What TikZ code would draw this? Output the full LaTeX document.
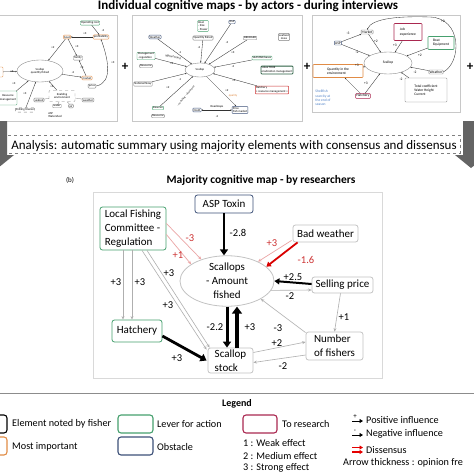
\documentclass[tikz,border=0pt]{standalone}
\usepackage{fontspec}
\setmainfont{Carlito}
\usetikzlibrary{arrows.meta,shapes.geometric,calc}
\definecolor{lgreen}{RGB}{70,160,110}
\definecolor{lblue}{RGB}{60,80,120}
\definecolor{lred}{RGB}{170,40,80}
\definecolor{lorange}{RGB}{225,140,70}
\definecolor{lgray}{RGB}{195,195,195}
\definecolor{agray}{RGB}{175,175,175}
\definecolor{pinkl}{RGB}{235,165,165}
\definecolor{redt}{RGB}{205,50,50}
\definecolor{bgray}{RGB}{100,100,100}
\definecolor{pgray}{RGB}{200,200,200}
\definecolor{sblue}{RGB}{80,130,200}
\begin{document}
\begin{tikzpicture}[x=1pt,y=-1pt,
  mn/.style={draw=lgray, rounded corners=2.5pt, fill=white, line width=0.8pt, font=\fontsize{11}{14}\selectfont, inner sep=0pt},
  lbl/.style={font=\fontsize{10.5}{12}\selectfont, inner sep=0pt},
  rlbl/.style={lbl, text=redt},
  thinarr/.style={draw=agray, line width=0.6pt, -{Stealth[length=3.5pt,width=3pt]}},
  pinkarr/.style={draw=pinkl, line width=0.7pt, -{Stealth[length=3.5pt,width=3pt]}},
  bigarr/.style={draw=black, line width=2.6pt, -{Triangle[length=6pt,width=8pt]}},
  panel/.style={draw=pgray, line width=0.7pt},
  tn/.style={draw=gray, rounded corners=0.8pt, line width=0.35pt, fill=white, font=\fontsize{3}{3.6}\selectfont, inner sep=0.8pt, align=center},
  tl/.style={font=\fontsize{3}{3.6}\selectfont, inner sep=0pt, align=center},
  ta/.style={-{Stealth[length=1.6pt,width=1.3pt]}, line width=0.35pt, draw=black!80},
  plus/.style={font=\bfseries\fontsize{13}{13}\selectfont, inner sep=0pt},
  legtext/.style={font=\fontsize{10.2}{12}\selectfont, inner sep=0pt, anchor=west},
  legbox/.style={rounded corners=3pt, line width=1.1pt, fill=white}
]
\useasboundingbox (0,0) rectangle (474,474);
\clip (0,0) rectangle (474,474);
\fill[white] (0,0) rectangle (474,474);

% ---------- top title ----------
\node[font=\bfseries\fontsize{13}{15}\selectfont, inner sep=0pt] (t1) at (248,6) {Individual cognitive maps - by actors - during interviews};

% ---------- panel 1 ----------
\draw[panel] (-5,15) rectangle (117,121);
\node[tn, draw=lgreen] (p1oc) at (90,23) {Operating cost};
\node[tn, draw=lorange] (p1boat) at (67,37) {boat};
\node[tn, draw=lorange] (p1prof) at (101,37) {profitability};
\node[tn] (p1fam) at (78,58) {family};
\node[tn, ellipse, minimum width=46pt, minimum height=22pt] (p1sq) at (40,71) {Scallop\\quantity fished};
\node[tn, draw=lorange] (p1mkt) at (87,78) {market};
\node[tn] (p1price) at (92,86) {price};
\node[tn, draw=lorange, minimum width=14pt, minimum height=10pt] (p1l) at (-4,72) {};
\node[tn, draw=lgreen, minimum width=18pt, minimum height=14pt] (p1res) at (8,98) {Resource\\management};
\node[tn, dashed] (p1fl) at (25,110) {Fishing license};
\node[tn, dashed, minimum width=26pt, minimum height=11pt] (p1ee) at (62,96) {Enabling\\environment};
\node[tn] (p1sb) at (39,100) {seabed};
\node[tn] (p1we) at (88,100) {weather};
\node[tn] (p1wa) at (57,106) {water};
\node[tn] (p1air) at (71,106) {air};
\node[tl, align=left] (p1asp) at (55,115) {ASP\\Watershed};
\draw[ta] (p1oc) -- (p1prof);
\draw[ta] (p1prof) -- (p1boat);
\draw[ta] (p1boat) -- (p1sq);
\draw[ta] (p1boat) -- (p1fam);
\draw[ta] (p1mkt) -- (p1fam);
\draw[ta] (p1sq) -- (p1mkt);
\draw[ta] (p1price.east) to[out=10,in=-70] (p1prof.south);
\draw[ta] (p1l) -- (p1sq);
\draw[ta] (p1res) -- (p1sq);
\draw[ta] (p1fl) -- (p1sq);
\draw[ta] (p1ee) -- (p1sq);
\draw[line width=0.3pt, gray] (p1ee) -- (p1sb) (p1ee) -- (p1we) (p1ee) -- (p1wa) (p1ee) -- (p1air);
\node[tl] at (103,31) {-3};
\node[tl] at (85,34) {+3};
\node[tl] at (53,48) {+2};
\node[tl] at (77,47) {+3};
\node[tl] at (82,68) {+3};
\node[tl] at (73,73) {-2};
\node[tl] at (113,63) {+3};
\node[tl] at (12,72) {+3};
\node[tl] at (14,84) {+3};
\node[tl] at (25,94) {+3};
\node[tl] at (52,87) {+3};

\node[plus] at (125,67) {+};

% ---------- panel 2 ----------
\draw[panel] (132,15) rectangle (302,121);
\node[tn, ellipse, minimum width=30pt, minimum height=14pt] (p2sc) at (200,70) {Scallop};
\node[tn, draw=lgreen, align=left] (p2boat) at (203,26) {Boat\\- Size\\- Power};
\node[tn] (p2qf) at (203,38) {Quantity fished};
\node[tn, draw=lblue] (p2asp) at (232,22) {ASP};
\node[tn, draw=lblue] (p2we) at (155,37) {Weather};
\node[tn] (p2dr) at (250,38) {DREDGER};
\node[tn] (p2sm) at (284,37) {seafood\\mass};
\node[tn, draw=lgreen, align=left] (p2mg) at (146,56) {Management\\- regulation};
\node[tn] (p2r1) at (146,66) {Resource};
\node[tn, draw=lgreen] (p2ss) at (262,58) {SEASTAR/bases};
\node[tn, draw=lgreen!60!black, line width=0.8pt, align=left] (p2vt) at (277,70) {value TRUE\\eradication management};
\node[tn] (p2nn) at (143,84) {National Navy};
\node[tn, draw=redt, line width=0.6pt, align=left] (p2ha) at (272,90) {Hatchery\\+ resource management +};
\node[tn, draw=lgreen] (p2re) at (158,108) {Reserve};
\node[tn] (p2r2) at (158,116) {Resource};
\node[tn, draw=lblue] (p2dt) at (197,110) {Dredt};
\node[tn, draw=lblue, align=left] (p2pr) at (240,110) {Price\\Fish market};
\draw[ta] (p2we) -- (p2sc);
\draw[ta] (p2qf) -- (p2sc);
\draw[ta] (p2asp) -- (p2sc);
\draw[ta] (p2dr) -- (p2sc);
\draw[ta] (p2ss) -- (p2sc);
\draw[ta] (p2mg) -- (p2sc);
\draw[ta] (p2nn) -- (p2sc);
\draw[ta] (p2ha) -- (p2sc);
\draw[ta] (p2re) -- (p2sc);
\draw[ta] (p2sc) -- (p2pr);
\draw[ta, {Stealth[length=1.6pt,width=1.3pt]}-{Stealth[length=1.6pt,width=1.3pt]}] (p2dt) -- (p2pr);
\node[tl] at (180,53) {-1};
\node[tl] at (199,48) {-2};
\node[tl] at (227,43) {-3};
\node[tl] at (233,53) {+3};
\node[tl] at (233,67) {-3};
\node[tl, rotate=-12] at (173,57) {against fraud};
\node[tl] at (172,64) {+2};
\node[tl] at (180,80) {-1};
\node[tl] at (234,81) {+3};
\node[tl] at (227,91) {+2};
\node[tl, text=lorange] at (233,96) {quality};
\node[tl] at (168,88) {+2};
\node[tl, rotate=50, font=\fontsize{2.6}{3}\selectfont] at (186,96) {- no fishing - closed area};
\node[tl] at (217,107) {Roadmaps};
\node[tl] at (217,117) {-2};

\node[plus] at (307,67) {+};

% ---------- panel 3 ----------
\begin{scope}[tn/.append style={font=\fontsize{3.6}{4.2}\selectfont}, tl/.append style={font=\fontsize{3.6}{4.2}\selectfont}]
\draw[panel] (312,15) rectangle (460,112);
\node[tn, ellipse, minimum width=48pt, minimum height=22pt] (p3sc) at (388,63) {Scallop};
\node[tn] (p3mk) at (367,32) {Market};
\node[tn, draw=lblue] (p3asp) at (338,43) {ASP};
\node[tn, draw=lred, line width=0.6pt, align=left, minimum width=28pt, minimum height=17pt] (p3job) at (408,32) {Job\\experience};
\node[tn, draw=lgreen, line width=0.6pt, align=left, minimum width=26pt, minimum height=13pt] (p3boat) at (441,43) {Boat\\Equipment};
\node[tn, draw=lorange, line width=0.6pt, align=left, minimum width=50pt, minimum height=13pt] (p3q) at (338,71) {Quantity in the\\environment};
\node[tl, text=sblue, align=left] (p3sh) at (323,98) {Shellfish\\scarcity at\\the end of\\season};
\node[tn, draw=lred, line width=0.6pt] (p3hat) at (363,96) {Hatchery};
\node[tn] (p3we) at (436,72) {Weather};
\node[tn, align=left, minimum width=42pt, minimum height=24pt] (p3tc) at (426,90) {Total coefficient\\Water Height\\Current};
\draw[ta] (p3asp) -- (p3mk);
\draw[ta] (p3mk) -- (p3sc);
\draw[ta] (p3asp) -- (p3sc);
\draw[ta] (p3job) -- (p3sc);
\draw[ta] (p3boat) -- (p3sc);
\draw[ta] (p3q) -- (p3sc);
\draw[ta] (p3hat) -- (p3sc);
\draw[ta] (p3hat) -- (p3q);
\draw[ta] (p3we) -- (p3sc);
\draw[ta] (p3tc) -- (p3sc);
\draw[ta] (p3we.east) .. controls (462,62) and (462,18) .. (430,17) .. controls (400,16) and (372,18) .. (p3mk.north);
\node[tl] at (348,33) {-3};
\node[tl] at (376,41) {+2};
\node[tl] at (357,52) {-2};
\node[tl] at (395,45) {+3};
\node[tl] at (420,55) {+2};
\node[tl] at (357,65) {+3};
\node[tl] at (366,83) {+3};
\node[tl] at (415,72) {-2};
\node[tl] at (401,79) {-2};
\node[tl] at (443,21) {+2};
\end{scope}

\node[plus] at (470,67) {+};

% ---------- banner ----------
\fill[bgray] (-10,121) -- (7,121) -- (7,155) -- (14,155) -- (-2,168) -- (-18,155) -- (-10,155) -- cycle;
\fill[bgray] (463,121) -- (480,121) -- (480,155) -- (488,155) -- (471,168) -- (455,155) -- (463,155) -- cycle;
\draw[dashed, draw=gray, line width=0.7pt] (8,135) -- (460,135) -- (460,153) -- (8,153);
\node[font=\fontsize{13}{15}\selectfont, inner sep=0pt] (ban) at (234,146) {Analysis: automatic summary using majority elements with consensus and dissensus};

% ---------- majority map ----------
\node[font=\fontsize{7}{8}\selectfont, inner sep=0pt] (b) at (70,180) {(b)};
\node[font=\bfseries\fontsize{11.5}{13}\selectfont, inner sep=0pt] (t2) at (261,180) {Majority cognitive map - by researchers};
\draw[draw=black!15, line width=0.7pt] (93,192) rectangle (382,378);

\node[mn, draw=lblue, minimum width=58pt, minimum height=18pt] (asp) at (224,204) {ASP Toxin};
\node[mn, draw=lgreen, minimum width=66pt, minimum height=43pt, align=left] (lfc) at (133,228.5) {Local Fishing\\Committee -\\Regulation};
\node[mn, minimum width=65pt, minimum height=17pt] (bw) at (325.5,233.5) {Bad weather};
\node[mn, ellipse, rounded corners=0pt, minimum width=94pt, minimum height=47pt, align=center] (sc) at (227,281) {Scallops\\- Amount\\fished};
\node[mn, minimum width=61pt, minimum height=16pt] (sp) at (342.5,285) {Selling price};
\node[mn, draw=lgreen, minimum width=50pt, minimum height=22pt] (hat) at (137,331) {Hatchery};
\node[mn, minimum width=45pt, minimum height=25pt, align=left] (st) at (230.5,360.5) {Scallop\\stock};
\node[mn, minimum width=57pt, minimum height=28pt, align=left] (nf) at (334.5,346) {Number\\of fishers};

% edges
\draw[bigarr] (asp.south) -- (asp.south |- sc.north);
\node[lbl] at (238,233) {-2.8};

\draw[pinkarr] ([yshift=5pt]lfc.east) -- (sc.140);
\draw[pinkarr] ([yshift=-6pt]lfc.east) -- (sc.155);
\node[rlbl] at (190,238) {-3};
\node[rlbl] at (178,255) {+1};

\draw[thinarr] ([xshift=-10pt]lfc.south) -- ([xshift=-14pt]hat.north);
\draw[thinarr] ([xshift=-1pt]lfc.south) -- ([xshift=-5pt]hat.north);
\node[lbl] at (116,282) {+3};
\node[lbl] at (140,282) {+3};

\draw[thinarr] ([xshift=9pt]lfc.south) -- ([xshift=-1pt,yshift=-2pt]st.north west);
\draw[thinarr] ([xshift=14pt]lfc.south) -- ([xshift=2pt]st.north west);
\node[lbl] at (169,273) {+3};
\node[lbl] at (168,305) {+3};

\draw[pinkarr] ([xshift=-1pt,yshift=2pt]bw.south west) -- (sc.32);
\draw[draw=red!85!black, line width=1.8pt, -{Triangle[length=4.5pt,width=5.5pt]}] ([xshift=5pt]bw.south west) -- (sc.20);
\node[rlbl] at (272,243) {+3};
\node[rlbl] at (306,260) {-1.6};

\draw[draw=black, line width=2pt, -{Triangle[length=5pt,width=6pt]}] ([yshift=1pt]sp.west) -- (sc.east);
\draw[thinarr] (sc.-12) -- ([yshift=-5pt]sp.west);
\node[lbl] at (293,277) {+2.5};
\node[lbl] at (290,296) {-2};

\draw[thinarr] ([xshift=-2pt]sp.south) -- (nf.north);
\node[lbl] at (344,317) {+1};

\draw[thinarr] ([yshift=-1pt]nf.north west) -- (sc.-28);
\node[lbl] at (278,328) {-3};

\draw[bigarr, line width=3pt] (sc.south) -- ([xshift=-3.5pt]st.north);
\draw[bigarr, line width=4.2pt, -{Triangle[length=7pt,width=10pt]}] ([xshift=6.5pt]st.north) -- ([xshift=10pt]sc.south);
\node[lbl] at (215,327) {-2.2};
\node[lbl] at (250,327) {+3};

\draw[bigarr, line width=2.8pt] ([yshift=-5pt]hat.east) -- ([xshift=-1pt]st.west);
\node[lbl] at (177,358) {+3};

\draw[thinarr] ([yshift=8pt]st.east) -- ([yshift=4pt]nf.west);
\draw[thinarr] ([yshift=-9pt]nf.west) -- ([yshift=-2pt]st.east);
\node[lbl] at (277,343) {+2};
\node[lbl] at (283,366) {-2};

% ---------- legend ----------
\draw[draw=black!45, line width=0.8pt] (0,393) -- (474,393);
\node[font=\bfseries\fontsize{10}{12}\selectfont, inner sep=0pt] (leg) at (237,404) {Legend};

\draw[legbox, draw=black] (-20,415) rectangle (7,433);
\node[legtext] at (12,424) {Element noted by fisher};
\draw[legbox, draw=lgreen] (118,415) rectangle (153,433);
\node[legtext] at (157,424) {Lever for action};
\draw[legbox, draw=lred] (243,415) rectangle (277,433);
\node[legtext] at (282,424) {To research};

\draw[legbox, draw=lorange] (-20,437) rectangle (7,455);
\node[legtext] at (12,447) {Most important};
\draw[legbox, draw=lblue] (118,437) rectangle (153,455);
\node[legtext] at (157,447) {Obstacle};

\node[legtext] at (243,443) {1 : Weak effect};
\node[legtext] at (243,456) {2 : Medium effect};
\node[legtext] at (243,468) {3 : Strong effect};

\coordinate (pa1) at (352,421);
\coordinate (pa2) at (363,421);
\draw[line width=0.9pt, -{Triangle[length=3.5pt,width=4pt]}] (pa1) -- (pa2);
\node[font=\fontsize{7}{7}\selectfont, inner sep=0pt] at (355,416.5) {+};
\node[legtext] at (366,420) {Positive influence};

\coordinate (na1) at (352,435);
\coordinate (na2) at (363,435);
\draw[line width=0.9pt, -{Triangle[length=3.5pt,width=4pt]}] (na1) -- (na2);
\node[font=\fontsize{7}{7}\selectfont, inner sep=0pt] at (355,431) {-};
\node[legtext] at (366,434) {Negative influence};

\coordinate (da1) at (352,447.5);
\coordinate (da2) at (363,447.5);
\coordinate (db1) at (352,452);
\coordinate (db2) at (363,452);
\draw[draw=red!90!black, line width=1.1pt, -{Triangle[length=3.5pt,width=4pt]}] (da1) -- (da2);
\draw[draw=red!90!black, line width=1.1pt, -{Triangle[length=3.5pt,width=4pt]}] (db1) -- (db2);
\node[legtext] at (366,450) {Dissensus};

\node[legtext] at (343,463) {Arrow thickness : opinion fre};
\end{tikzpicture}
\end{document}
